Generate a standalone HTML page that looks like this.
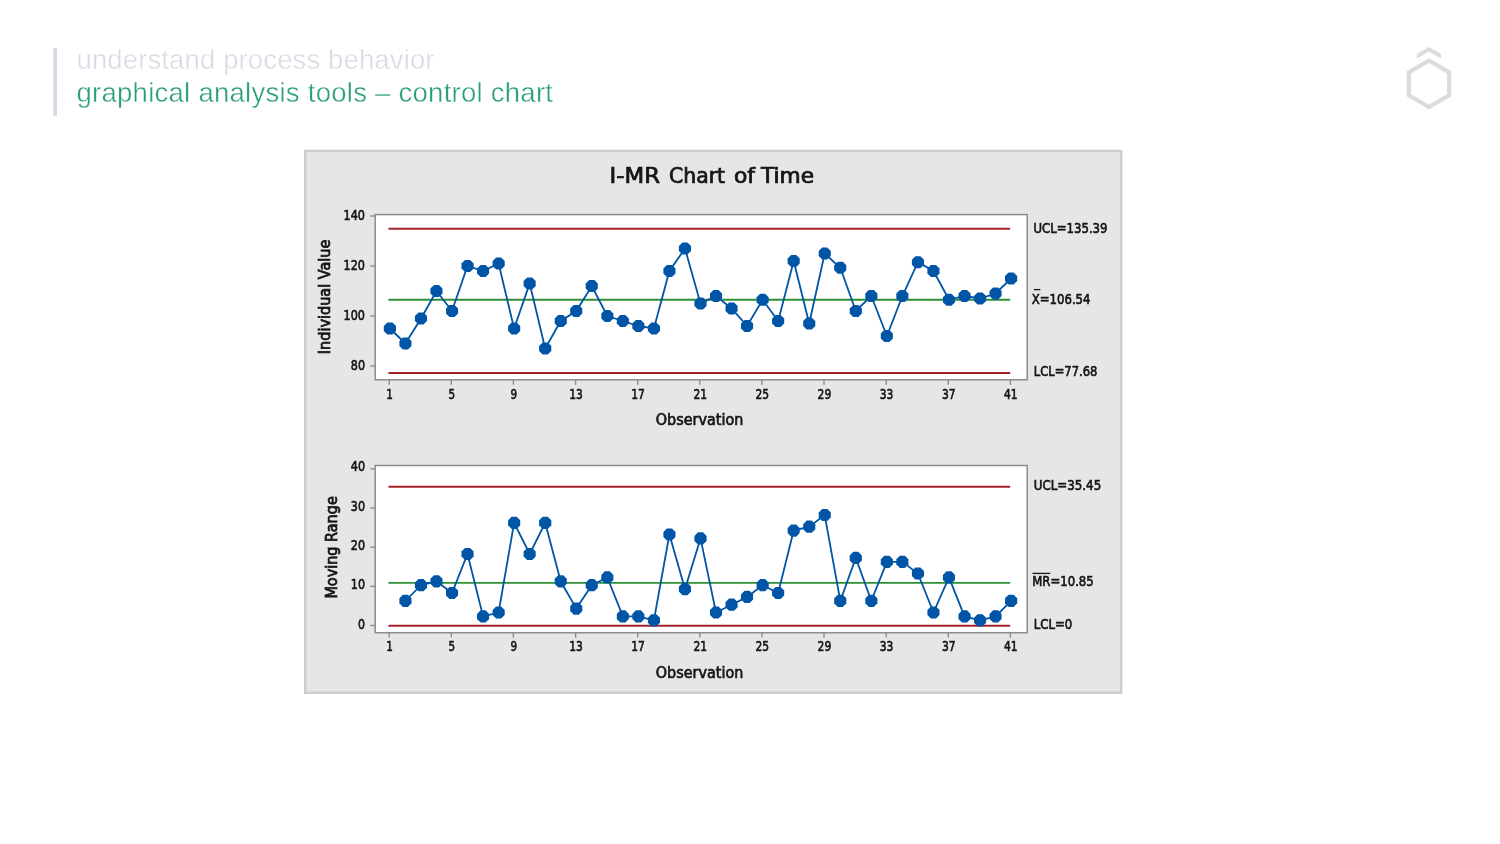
<!DOCTYPE html>
<html><head><meta charset="utf-8"><title>control chart</title>
<style>
html,body{margin:0;padding:0;background:#fff;}
body{width:1500px;height:844px;position:relative;overflow:hidden;font-family:"Liberation Sans",sans-serif;}
</style></head><body>
<svg width="1500" height="844" viewBox="0 0 1500 844" style="position:absolute;left:0;top:0">
<defs><filter id="b" x="-2%" y="-2%" width="104%" height="104%"><feGaussianBlur stdDeviation="0.55"/></filter></defs>
<g filter="url(#b)">
<rect x="305.2" y="151" width="816" height="541.8" fill="#e6e6e6" stroke="#cdcdcd" stroke-width="2.4"/>
<rect x="375.2" y="214.6" width="652" height="165.2" fill="#fff" stroke="#8c8c8c" stroke-width="1.5"/>
<rect x="375.2" y="465.5" width="652" height="167.2" fill="#fff" stroke="#8c8c8c" stroke-width="1.5"/>
<line x1="370.3" x2="375" y1="366.0" y2="366.0" stroke="#8c8c8c" stroke-width="1.4"/>
<line x1="370.3" x2="375" y1="316.0" y2="316.0" stroke="#8c8c8c" stroke-width="1.4"/>
<line x1="370.3" x2="375" y1="266.0" y2="266.0" stroke="#8c8c8c" stroke-width="1.4"/>
<line x1="370.3" x2="375" y1="216.0" y2="216.0" stroke="#8c8c8c" stroke-width="1.4"/>
<line x1="370.3" x2="375" y1="625.5" y2="625.5" stroke="#8c8c8c" stroke-width="1.4"/>
<line x1="370.3" x2="375" y1="586.4" y2="586.4" stroke="#8c8c8c" stroke-width="1.4"/>
<line x1="370.3" x2="375" y1="547.2" y2="547.2" stroke="#8c8c8c" stroke-width="1.4"/>
<line x1="370.3" x2="375" y1="508.1" y2="508.1" stroke="#8c8c8c" stroke-width="1.4"/>
<line x1="370.3" x2="375" y1="468.9" y2="468.9" stroke="#8c8c8c" stroke-width="1.4"/>
<line x1="389.2" x2="389.2" y1="380" y2="384.8" stroke="#8c8c8c" stroke-width="1.4"/>
<line x1="389.2" x2="389.2" y1="632.8" y2="637.6" stroke="#8c8c8c" stroke-width="1.4"/>
<line x1="451.3" x2="451.3" y1="380" y2="384.8" stroke="#8c8c8c" stroke-width="1.4"/>
<line x1="451.3" x2="451.3" y1="632.8" y2="637.6" stroke="#8c8c8c" stroke-width="1.4"/>
<line x1="513.4" x2="513.4" y1="380" y2="384.8" stroke="#8c8c8c" stroke-width="1.4"/>
<line x1="513.4" x2="513.4" y1="632.8" y2="637.6" stroke="#8c8c8c" stroke-width="1.4"/>
<line x1="575.6" x2="575.6" y1="380" y2="384.8" stroke="#8c8c8c" stroke-width="1.4"/>
<line x1="575.6" x2="575.6" y1="632.8" y2="637.6" stroke="#8c8c8c" stroke-width="1.4"/>
<line x1="637.7" x2="637.7" y1="380" y2="384.8" stroke="#8c8c8c" stroke-width="1.4"/>
<line x1="637.7" x2="637.7" y1="632.8" y2="637.6" stroke="#8c8c8c" stroke-width="1.4"/>
<line x1="699.8" x2="699.8" y1="380" y2="384.8" stroke="#8c8c8c" stroke-width="1.4"/>
<line x1="699.8" x2="699.8" y1="632.8" y2="637.6" stroke="#8c8c8c" stroke-width="1.4"/>
<line x1="761.9" x2="761.9" y1="380" y2="384.8" stroke="#8c8c8c" stroke-width="1.4"/>
<line x1="761.9" x2="761.9" y1="632.8" y2="637.6" stroke="#8c8c8c" stroke-width="1.4"/>
<line x1="824.0" x2="824.0" y1="380" y2="384.8" stroke="#8c8c8c" stroke-width="1.4"/>
<line x1="824.0" x2="824.0" y1="632.8" y2="637.6" stroke="#8c8c8c" stroke-width="1.4"/>
<line x1="886.2" x2="886.2" y1="380" y2="384.8" stroke="#8c8c8c" stroke-width="1.4"/>
<line x1="886.2" x2="886.2" y1="632.8" y2="637.6" stroke="#8c8c8c" stroke-width="1.4"/>
<line x1="948.3" x2="948.3" y1="380" y2="384.8" stroke="#8c8c8c" stroke-width="1.4"/>
<line x1="948.3" x2="948.3" y1="632.8" y2="637.6" stroke="#8c8c8c" stroke-width="1.4"/>
<line x1="1010.4" x2="1010.4" y1="380" y2="384.8" stroke="#8c8c8c" stroke-width="1.4"/>
<line x1="1010.4" x2="1010.4" y1="632.8" y2="637.6" stroke="#8c8c8c" stroke-width="1.4"/>
<line x1="388.4" x2="1010.2" y1="228.7" y2="228.7" stroke="#a3242c" stroke-width="1.9"/>
<line x1="388.4" x2="1010.2" y1="373.0" y2="373.0" stroke="#a3242c" stroke-width="1.9"/>
<line x1="388.4" x2="1010.2" y1="299.8" y2="299.8" stroke="#2f9036" stroke-width="1.9"/>
<line x1="388.4" x2="1010.2" y1="486.8" y2="486.8" stroke="#a3242c" stroke-width="1.9"/>
<line x1="388.4" x2="1010.2" y1="625.8" y2="625.8" stroke="#a3242c" stroke-width="1.9"/>
<line x1="388.4" x2="1010.2" y1="582.9" y2="582.9" stroke="#2f9036" stroke-width="1.9"/>
<polyline points="389.9,328.5 405.4,343.5 421.0,318.5 436.5,291.0 452.0,311.0 467.5,266.0 483.1,271.0 498.6,263.5 514.1,328.5 529.7,283.5 545.2,348.5 560.7,321.0 576.3,311.0 591.8,286.0 607.3,316.0 622.9,321.0 638.4,326.0 653.9,328.5 669.4,271.0 685.0,248.5 700.5,303.5 716.0,296.0 731.6,308.5 747.1,326.0 762.6,299.8 778.2,321.0 793.7,261.0 809.2,323.5 824.7,253.5 840.3,267.8 855.8,311.0 871.3,296.0 886.9,336.0 902.4,296.0 917.9,262.2 933.5,271.0 949.0,299.8 964.5,296.0 980.0,298.5 995.6,293.5 1011.1,278.5" fill="none" stroke="#0054a6" stroke-width="1.8"/>
<g fill="#0054a6"><polygon points="396.0,331.0 392.4,334.6 387.4,334.6 383.8,331.0 383.8,326.0 387.4,322.4 392.4,322.4 396.0,326.0"/><polygon points="411.5,346.0 407.9,349.6 402.9,349.6 399.4,346.0 399.4,341.0 402.9,337.4 407.9,337.4 411.5,341.0"/><polygon points="427.0,321.0 423.5,324.6 418.5,324.6 414.9,321.0 414.9,316.0 418.5,312.4 423.5,312.4 427.0,316.0"/><polygon points="442.5,293.5 439.0,297.1 434.0,297.1 430.4,293.5 430.4,288.5 434.0,284.9 439.0,284.9 442.5,288.5"/><polygon points="458.1,313.5 454.5,317.1 449.5,317.1 446.0,313.5 446.0,308.5 449.5,304.9 454.5,304.9 458.1,308.5"/><polygon points="473.6,268.5 470.1,272.1 465.0,272.1 461.5,268.5 461.5,263.5 465.0,259.9 470.1,259.9 473.6,263.5"/><polygon points="489.1,273.5 485.6,277.1 480.6,277.1 477.0,273.5 477.0,268.5 480.6,264.9 485.6,264.9 489.1,268.5"/><polygon points="504.7,266.0 501.1,269.6 496.1,269.6 492.6,266.0 492.6,261.0 496.1,257.4 501.1,257.4 504.7,261.0"/><polygon points="520.2,331.0 516.6,334.6 511.6,334.6 508.1,331.0 508.1,326.0 511.6,322.4 516.6,322.4 520.2,326.0"/><polygon points="535.7,286.0 532.2,289.6 527.2,289.6 523.6,286.0 523.6,281.0 527.2,277.4 532.2,277.4 535.7,281.0"/><polygon points="551.3,351.0 547.7,354.6 542.7,354.6 539.1,351.0 539.1,346.0 542.7,342.4 547.7,342.4 551.3,346.0"/><polygon points="566.8,323.5 563.2,327.1 558.2,327.1 554.7,323.5 554.7,318.5 558.2,314.9 563.2,314.9 566.8,318.5"/><polygon points="582.3,313.5 578.8,317.1 573.8,317.1 570.2,313.5 570.2,308.5 573.8,304.9 578.8,304.9 582.3,308.5"/><polygon points="597.8,288.5 594.3,292.1 589.3,292.1 585.7,288.5 585.7,283.5 589.3,279.9 594.3,279.9 597.8,283.5"/><polygon points="613.4,318.5 609.8,322.1 604.8,322.1 601.3,318.5 601.3,313.5 604.8,309.9 609.8,309.9 613.4,313.5"/><polygon points="628.9,323.5 625.4,327.1 620.3,327.1 616.8,323.5 616.8,318.5 620.3,314.9 625.4,314.9 628.9,318.5"/><polygon points="644.4,328.5 640.9,332.1 635.9,332.1 632.3,328.5 632.3,323.5 635.9,319.9 640.9,319.9 644.4,323.5"/><polygon points="660.0,331.0 656.4,334.6 651.4,334.6 647.9,331.0 647.9,326.0 651.4,322.4 656.4,322.4 660.0,326.0"/><polygon points="675.5,273.5 671.9,277.1 666.9,277.1 663.4,273.5 663.4,268.5 666.9,264.9 671.9,264.9 675.5,268.5"/><polygon points="691.0,251.0 687.5,254.6 682.5,254.6 678.9,251.0 678.9,246.0 682.5,242.4 687.5,242.4 691.0,246.0"/><polygon points="706.6,306.0 703.0,309.6 698.0,309.6 694.4,306.0 694.4,301.0 698.0,297.4 703.0,297.4 706.6,301.0"/><polygon points="722.1,298.5 718.5,302.1 713.5,302.1 710.0,298.5 710.0,293.5 713.5,289.9 718.5,289.9 722.1,293.5"/><polygon points="737.6,311.0 734.1,314.6 729.1,314.6 725.5,311.0 725.5,306.0 729.1,302.4 734.1,302.4 737.6,306.0"/><polygon points="753.1,328.5 749.6,332.1 744.6,332.1 741.0,328.5 741.0,323.5 744.6,319.9 749.6,319.9 753.1,323.5"/><polygon points="768.7,302.3 765.1,305.8 760.1,305.8 756.6,302.3 756.6,297.2 760.1,293.7 765.1,293.7 768.7,297.2"/><polygon points="784.2,323.5 780.7,327.1 775.6,327.1 772.1,323.5 772.1,318.5 775.6,314.9 780.7,314.9 784.2,318.5"/><polygon points="799.7,263.5 796.2,267.1 791.2,267.1 787.6,263.5 787.6,258.5 791.2,254.9 796.2,254.9 799.7,258.5"/><polygon points="815.3,326.0 811.7,329.6 806.7,329.6 803.2,326.0 803.2,321.0 806.7,317.4 811.7,317.4 815.3,321.0"/><polygon points="830.8,256.0 827.2,259.6 822.2,259.6 818.7,256.0 818.7,251.0 822.2,247.4 827.2,247.4 830.8,251.0"/><polygon points="846.3,270.3 842.8,273.8 837.8,273.8 834.2,270.3 834.2,265.2 837.8,261.7 842.8,261.7 846.3,265.2"/><polygon points="861.9,313.5 858.3,317.1 853.3,317.1 849.7,313.5 849.7,308.5 853.3,304.9 858.3,304.9 861.9,308.5"/><polygon points="877.4,298.5 873.8,302.1 868.8,302.1 865.3,298.5 865.3,293.5 868.8,289.9 873.8,289.9 877.4,293.5"/><polygon points="892.9,338.5 889.4,342.1 884.4,342.1 880.8,338.5 880.8,333.5 884.4,329.9 889.4,329.9 892.9,333.5"/><polygon points="908.4,298.5 904.9,302.1 899.9,302.1 896.3,298.5 896.3,293.5 899.9,289.9 904.9,289.9 908.4,293.5"/><polygon points="924.0,264.8 920.4,268.3 915.4,268.3 911.9,264.8 911.9,259.7 915.4,256.2 920.4,256.2 924.0,259.7"/><polygon points="939.5,273.5 936.0,277.1 930.9,277.1 927.4,273.5 927.4,268.5 930.9,264.9 936.0,264.9 939.5,268.5"/><polygon points="955.0,302.3 951.5,305.8 946.5,305.8 942.9,302.3 942.9,297.2 946.5,293.7 951.5,293.7 955.0,297.2"/><polygon points="970.6,298.5 967.0,302.1 962.0,302.1 958.5,298.5 958.5,293.5 962.0,289.9 967.0,289.9 970.6,293.5"/><polygon points="986.1,301.0 982.5,304.6 977.5,304.6 974.0,301.0 974.0,296.0 977.5,292.4 982.5,292.4 986.1,296.0"/><polygon points="1001.6,296.0 998.1,299.6 993.1,299.6 989.5,296.0 989.5,291.0 993.1,287.4 998.1,287.4 1001.6,291.0"/><polygon points="1017.2,281.0 1013.6,284.6 1008.6,284.6 1005.0,281.0 1005.0,276.0 1008.6,272.4 1013.6,272.4 1017.2,276.0"/></g>
<polyline points="405.4,600.8 421.0,585.2 436.5,581.3 452.0,593.0 467.5,554.0 483.1,616.4 498.6,612.5 514.1,522.8 529.7,554.0 545.2,522.8 560.7,581.3 576.3,608.6 591.8,585.2 607.3,577.4 622.9,616.4 638.4,616.4 653.9,620.3 669.4,534.5 685.0,589.1 700.5,538.4 716.0,612.5 731.6,604.7 747.1,596.9 762.6,585.2 778.2,593.0 793.7,530.6 809.2,526.7 824.7,515.0 840.3,600.8 855.8,557.9 871.3,600.8 886.9,561.8 902.4,561.8 917.9,573.5 933.5,612.5 949.0,577.4 964.5,616.4 980.0,620.3 995.6,616.4 1011.1,600.8" fill="none" stroke="#0054a6" stroke-width="1.8"/>
<g fill="#0054a6"><polygon points="411.5,603.3 407.9,606.9 402.9,606.9 399.4,603.3 399.4,598.3 402.9,594.7 407.9,594.7 411.5,598.3"/><polygon points="427.0,587.7 423.5,591.3 418.5,591.3 414.9,587.7 414.9,582.7 418.5,579.1 423.5,579.1 427.0,582.7"/><polygon points="442.5,583.8 439.0,587.4 434.0,587.4 430.4,583.8 430.4,578.8 434.0,575.2 439.0,575.2 442.5,578.8"/><polygon points="458.1,595.5 454.5,599.1 449.5,599.1 446.0,595.5 446.0,590.5 449.5,586.9 454.5,586.9 458.1,590.5"/><polygon points="473.6,556.5 470.1,560.1 465.0,560.1 461.5,556.5 461.5,551.5 465.0,547.9 470.1,547.9 473.6,551.5"/><polygon points="489.1,618.9 485.6,622.5 480.6,622.5 477.0,618.9 477.0,613.9 480.6,610.3 485.6,610.3 489.1,613.9"/><polygon points="504.7,615.0 501.1,618.6 496.1,618.6 492.6,615.0 492.6,610.0 496.1,606.4 501.1,606.4 504.7,610.0"/><polygon points="520.2,525.3 516.6,528.9 511.6,528.9 508.1,525.3 508.1,520.3 511.6,516.7 516.6,516.7 520.2,520.3"/><polygon points="535.7,556.5 532.2,560.1 527.2,560.1 523.6,556.5 523.6,551.5 527.2,547.9 532.2,547.9 535.7,551.5"/><polygon points="551.3,525.3 547.7,528.9 542.7,528.9 539.1,525.3 539.1,520.3 542.7,516.7 547.7,516.7 551.3,520.3"/><polygon points="566.8,583.8 563.2,587.4 558.2,587.4 554.7,583.8 554.7,578.8 558.2,575.2 563.2,575.2 566.8,578.8"/><polygon points="582.3,611.1 578.8,614.7 573.8,614.7 570.2,611.1 570.2,606.1 573.8,602.5 578.8,602.5 582.3,606.1"/><polygon points="597.8,587.7 594.3,591.3 589.3,591.3 585.7,587.7 585.7,582.7 589.3,579.1 594.3,579.1 597.8,582.7"/><polygon points="613.4,579.9 609.8,583.5 604.8,583.5 601.3,579.9 601.3,574.9 604.8,571.3 609.8,571.3 613.4,574.9"/><polygon points="628.9,618.9 625.4,622.5 620.3,622.5 616.8,618.9 616.8,613.9 620.3,610.3 625.4,610.3 628.9,613.9"/><polygon points="644.4,618.9 640.9,622.5 635.9,622.5 632.3,618.9 632.3,613.9 635.9,610.3 640.9,610.3 644.4,613.9"/><polygon points="660.0,622.8 656.4,626.4 651.4,626.4 647.9,622.8 647.9,617.8 651.4,614.2 656.4,614.2 660.0,617.8"/><polygon points="675.5,537.0 671.9,540.6 666.9,540.6 663.4,537.0 663.4,532.0 666.9,528.4 671.9,528.4 675.5,532.0"/><polygon points="691.0,591.6 687.5,595.2 682.5,595.2 678.9,591.6 678.9,586.6 682.5,583.0 687.5,583.0 691.0,586.6"/><polygon points="706.6,540.9 703.0,544.5 698.0,544.5 694.4,540.9 694.4,535.9 698.0,532.3 703.0,532.3 706.6,535.9"/><polygon points="722.1,615.0 718.5,618.6 713.5,618.6 710.0,615.0 710.0,610.0 713.5,606.4 718.5,606.4 722.1,610.0"/><polygon points="737.6,607.2 734.1,610.8 729.1,610.8 725.5,607.2 725.5,602.2 729.1,598.6 734.1,598.6 737.6,602.2"/><polygon points="753.1,599.4 749.6,603.0 744.6,603.0 741.0,599.4 741.0,594.4 744.6,590.8 749.6,590.8 753.1,594.4"/><polygon points="768.7,587.7 765.1,591.3 760.1,591.3 756.6,587.7 756.6,582.7 760.1,579.1 765.1,579.1 768.7,582.7"/><polygon points="784.2,595.5 780.7,599.1 775.6,599.1 772.1,595.5 772.1,590.5 775.6,586.9 780.7,586.9 784.2,590.5"/><polygon points="799.7,533.1 796.2,536.7 791.2,536.7 787.6,533.1 787.6,528.1 791.2,524.5 796.2,524.5 799.7,528.1"/><polygon points="815.3,529.2 811.7,532.8 806.7,532.8 803.2,529.2 803.2,524.2 806.7,520.6 811.7,520.6 815.3,524.2"/><polygon points="830.8,517.5 827.2,521.1 822.2,521.1 818.7,517.5 818.7,512.5 822.2,508.9 827.2,508.9 830.8,512.5"/><polygon points="846.3,603.3 842.8,606.9 837.8,606.9 834.2,603.3 834.2,598.3 837.8,594.7 842.8,594.7 846.3,598.3"/><polygon points="861.9,560.4 858.3,564.0 853.3,564.0 849.7,560.4 849.7,555.4 853.3,551.8 858.3,551.8 861.9,555.4"/><polygon points="877.4,603.3 873.8,606.9 868.8,606.9 865.3,603.3 865.3,598.3 868.8,594.7 873.8,594.7 877.4,598.3"/><polygon points="892.9,564.3 889.4,567.9 884.4,567.9 880.8,564.3 880.8,559.3 884.4,555.7 889.4,555.7 892.9,559.3"/><polygon points="908.4,564.3 904.9,567.9 899.9,567.9 896.3,564.3 896.3,559.3 899.9,555.7 904.9,555.7 908.4,559.3"/><polygon points="924.0,576.0 920.4,579.6 915.4,579.6 911.9,576.0 911.9,571.0 915.4,567.4 920.4,567.4 924.0,571.0"/><polygon points="939.5,615.0 936.0,618.6 930.9,618.6 927.4,615.0 927.4,610.0 930.9,606.4 936.0,606.4 939.5,610.0"/><polygon points="955.0,579.9 951.5,583.5 946.5,583.5 942.9,579.9 942.9,574.9 946.5,571.3 951.5,571.3 955.0,574.9"/><polygon points="970.6,618.9 967.0,622.5 962.0,622.5 958.5,618.9 958.5,613.9 962.0,610.3 967.0,610.3 970.6,613.9"/><polygon points="986.1,622.8 982.5,626.4 977.5,626.4 974.0,622.8 974.0,617.8 977.5,614.2 982.5,614.2 986.1,617.8"/><polygon points="1001.6,618.9 998.1,622.5 993.1,622.5 989.5,618.9 989.5,613.9 993.1,610.3 998.1,610.3 1001.6,613.9"/><polygon points="1017.2,603.3 1013.6,606.9 1008.6,606.9 1005.0,603.3 1005.0,598.3 1008.6,594.7 1013.6,594.7 1017.2,598.3"/></g>
<g font-family="'DejaVu Sans Condensed', 'DejaVu Sans', 'Liberation Sans', sans-serif" fill="#141414" stroke="#141414" stroke-width="0.6">
<text y="183" font-size="21" stroke-width="0.7"><tspan x="609.5" textLength="50.5" lengthAdjust="spacingAndGlyphs">I-MR</tspan> <tspan x="669" textLength="56" lengthAdjust="spacingAndGlyphs">Chart</tspan> <tspan x="734" textLength="21" lengthAdjust="spacingAndGlyphs">of</tspan> <tspan x="761" textLength="53" lengthAdjust="spacingAndGlyphs">Time</tspan></text>
<text x="350.8" y="370.2" font-size="13.7" textLength="14.2" lengthAdjust="spacingAndGlyphs">80</text>
<text x="343.6" y="320.2" font-size="13.7" textLength="21.4" lengthAdjust="spacingAndGlyphs">100</text>
<text x="343.6" y="270.2" font-size="13.7" textLength="21.4" lengthAdjust="spacingAndGlyphs">120</text>
<text x="343.6" y="220.2" font-size="13.7" textLength="21.4" lengthAdjust="spacingAndGlyphs">140</text>
<text x="358.0" y="628.7" font-size="13.7" textLength="7.0" lengthAdjust="spacingAndGlyphs">0</text>
<text x="350.8" y="589.3" font-size="13.7" textLength="14.2" lengthAdjust="spacingAndGlyphs">10</text>
<text x="350.8" y="550.0" font-size="13.7" textLength="14.2" lengthAdjust="spacingAndGlyphs">20</text>
<text x="350.8" y="510.6" font-size="13.7" textLength="14.2" lengthAdjust="spacingAndGlyphs">30</text>
<text x="350.8" y="471.3" font-size="13.7" textLength="14.2" lengthAdjust="spacingAndGlyphs">40</text>
<text x="386.3" y="398.8" font-size="13.7" textLength="6.6" lengthAdjust="spacingAndGlyphs">1</text>
<text x="386.3" y="651.2" font-size="13.7" textLength="6.6" lengthAdjust="spacingAndGlyphs">1</text>
<text x="448.4" y="398.8" font-size="13.7" textLength="6.6" lengthAdjust="spacingAndGlyphs">5</text>
<text x="448.4" y="651.2" font-size="13.7" textLength="6.6" lengthAdjust="spacingAndGlyphs">5</text>
<text x="510.5" y="398.8" font-size="13.7" textLength="6.6" lengthAdjust="spacingAndGlyphs">9</text>
<text x="510.5" y="651.2" font-size="13.7" textLength="6.6" lengthAdjust="spacingAndGlyphs">9</text>
<text x="569.2" y="398.8" font-size="13.7" textLength="13.6" lengthAdjust="spacingAndGlyphs">13</text>
<text x="569.2" y="651.2" font-size="13.7" textLength="13.6" lengthAdjust="spacingAndGlyphs">13</text>
<text x="631.3" y="398.8" font-size="13.7" textLength="13.6" lengthAdjust="spacingAndGlyphs">17</text>
<text x="631.3" y="651.2" font-size="13.7" textLength="13.6" lengthAdjust="spacingAndGlyphs">17</text>
<text x="693.4" y="398.8" font-size="13.7" textLength="13.6" lengthAdjust="spacingAndGlyphs">21</text>
<text x="693.4" y="651.2" font-size="13.7" textLength="13.6" lengthAdjust="spacingAndGlyphs">21</text>
<text x="755.5" y="398.8" font-size="13.7" textLength="13.6" lengthAdjust="spacingAndGlyphs">25</text>
<text x="755.5" y="651.2" font-size="13.7" textLength="13.6" lengthAdjust="spacingAndGlyphs">25</text>
<text x="817.6" y="398.8" font-size="13.7" textLength="13.6" lengthAdjust="spacingAndGlyphs">29</text>
<text x="817.6" y="651.2" font-size="13.7" textLength="13.6" lengthAdjust="spacingAndGlyphs">29</text>
<text x="879.8" y="398.8" font-size="13.7" textLength="13.6" lengthAdjust="spacingAndGlyphs">33</text>
<text x="879.8" y="651.2" font-size="13.7" textLength="13.6" lengthAdjust="spacingAndGlyphs">33</text>
<text x="941.9" y="398.8" font-size="13.7" textLength="13.6" lengthAdjust="spacingAndGlyphs">37</text>
<text x="941.9" y="651.2" font-size="13.7" textLength="13.6" lengthAdjust="spacingAndGlyphs">37</text>
<text x="1004.0" y="398.8" font-size="13.7" textLength="13.6" lengthAdjust="spacingAndGlyphs">41</text>
<text x="1004.0" y="651.2" font-size="13.7" textLength="13.6" lengthAdjust="spacingAndGlyphs">41</text>
<text x="655.8" y="425" font-size="15" textLength="87.5" lengthAdjust="spacingAndGlyphs">Observation</text>
<text x="655.8" y="677.6" font-size="15" textLength="87.5" lengthAdjust="spacingAndGlyphs">Observation</text>
<text transform="translate(329.9,354.2) rotate(-90)" font-size="16" stroke-width="0.75" textLength="114.6" lengthAdjust="spacingAndGlyphs">Individual Value</text>
<text transform="translate(337.2,598.6) rotate(-90)" font-size="16" stroke-width="0.75" textLength="102.4" lengthAdjust="spacingAndGlyphs">Moving Range</text>
<text x="1033.5" y="233.4" font-size="13.7" textLength="74.0" lengthAdjust="spacingAndGlyphs">UCL=135.39</text>
<text x="1033.8" y="376.0" font-size="13.7" textLength="63.5" lengthAdjust="spacingAndGlyphs">LCL=77.68</text>
<text x="1031.8" y="304.2" font-size="13.7" textLength="58.7" lengthAdjust="spacingAndGlyphs">X=106.54</text>
<line x1="1033.8" x2="1040.4" y1="289.6" y2="289.6" stroke-width="1.3"/>
<text x="1033.8" y="490.0" font-size="13.7" textLength="67.4" lengthAdjust="spacingAndGlyphs">UCL=35.45</text>
<text x="1032.3" y="586.0" font-size="13.7" textLength="61.4" lengthAdjust="spacingAndGlyphs">MR=10.85</text>
<line x1="1032.5" x2="1050.3" y1="573.4" y2="573.4" stroke-width="1.3"/>
<text x="1033.8" y="629.0" font-size="13.7" textLength="38.4" lengthAdjust="spacingAndGlyphs">LCL=0</text>
</g>
</g>
<polygon points="1429,60.6 1449.1,72.2 1449.1,95.4 1429,107 1408.9,95.4 1408.9,72.2" fill="none" stroke="#dcdcdc" stroke-width="4.2"/>
<polygon points="1416.8,53.7 1429,47 1441.1,53.7 1441.1,58.5 1429,51.8 1416.8,58.5" fill="#dcdcdc"/>
<rect x="53.2" y="48" width="3.8" height="68" fill="#d6d8e4"/>
<g font-family="'Liberation Sans', sans-serif" font-size="27.5" stroke="#fff" stroke-width="0.4">
<text id="t1" x="76.5" y="69" fill="#d9dbe4" textLength="358" lengthAdjust="spacing">understand process behavior</text>
<text id="t2" x="76.5" y="102" fill="#2a9d7c" textLength="476.5" lengthAdjust="spacing">graphical analysis tools – control chart</text>
</g>
</svg>
</body></html>
